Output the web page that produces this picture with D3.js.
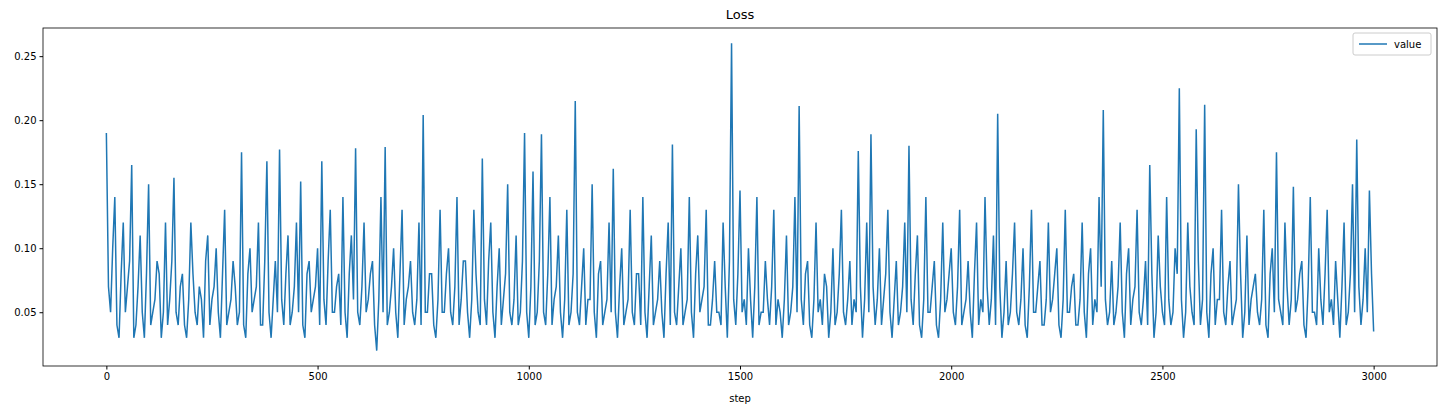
<!DOCTYPE html>
<html>
<head>
<meta charset="utf-8">
<script src="https://cdn.jsdelivr.net/npm/d3@7"></script>
<style>
  body { margin: 0; background: #fff; }
  text { font-family: "DejaVu Sans", sans-serif; }
</style>
</head>
<body>
<script>
// loss value at steps 0, 10, 20, ...
var lossValues = [
  0.19,0.05,0.14,0.03,0.12,0.07,0.165,0.04,0.11,0.03,0.15,0.05,0.09,0.03,0.12,0.06,0.155,0.04,0.08,0.03,
  0.12,0.05,0.07,0.03,0.11,0.06,0.10,0.03,0.13,0.05,0.09,0.04,0.175,0.03,0.10,0.06,0.12,0.04,0.168,0.03,
  0.09,0.177,0.04,0.11,0.05,0.12,0.152,0.03,0.09,0.06,0.10,0.168,0.04,0.13,0.05,0.08,0.14,0.03,0.11,0.178,
  0.04,0.12,0.06,0.09,0.02,0.14,0.179,0.05,0.10,0.03,0.13,0.06,0.09,0.04,0.12,0.204,0.05,0.08,0.03,0.13,
  0.05,0.10,0.04,0.14,0.06,0.09,0.03,0.13,0.05,0.17,0.04,0.12,0.03,0.10,0.06,0.15,0.04,0.11,0.05,0.19,
  0.03,0.16,0.05,0.189,0.04,0.14,0.06,0.11,0.03,0.13,0.05,0.215,0.04,0.10,0.06,0.15,0.03,0.09,0.05,0.12,
  0.162,0.03,0.10,0.05,0.13,0.04,0.08,0.14,0.03,0.11,0.05,0.09,0.03,0.12,0.181,0.04,0.10,0.05,0.14,0.03,
  0.11,0.06,0.13,0.04,0.09,0.05,0.12,0.03,0.26,0.04,0.145,0.06,0.10,0.03,0.14,0.05,0.09,0.04,0.13,0.06,
  0.03,0.11,0.05,0.14,0.211,0.04,0.09,0.03,0.12,0.06,0.08,0.03,0.10,0.05,0.13,0.04,0.09,0.06,0.176,0.03,
  0.12,0.189,0.04,0.10,0.06,0.13,0.03,0.09,0.05,0.12,0.18,0.04,0.11,0.03,0.14,0.05,0.09,0.03,0.12,0.06,
  0.10,0.04,0.13,0.05,0.09,0.03,0.12,0.06,0.14,0.04,0.11,0.205,0.03,0.09,0.05,0.12,0.04,0.10,0.03,0.13,
  0.05,0.09,0.04,0.12,0.06,0.10,0.03,0.13,0.05,0.08,0.04,0.12,0.03,0.10,0.06,0.14,0.208,0.04,0.09,0.05,
  0.12,0.03,0.10,0.06,0.13,0.04,0.09,0.165,0.03,0.11,0.05,0.14,0.04,0.10,0.225,0.03,0.12,0.05,0.193,0.04,
  0.212,0.03,0.10,0.06,0.13,0.04,0.09,0.05,0.15,0.03,0.11,0.06,0.08,0.04,0.13,0.03,0.10,0.175,0.05,0.12,
  0.04,0.148,0.06,0.09,0.03,0.14,0.05,0.10,0.04,0.13,0.06,0.09,0.03,0.12,0.05,0.15,0.185,0.04,0.10,0.145,
  0.035
];
// loss value at steps 5, 15, 25, ...
var lossMidValues = [
  0.07,0.10,0.04,0.08,0.05,0.09,0.03,0.07,0.05,0.08,0.04,0.06,0.08,0.05,0.04,0.09,0.05,0.07,0.04,0.06,
  0.08,0.04,0.06,0.09,0.04,0.07,0.05,0.08,0.04,0.06,0.07,0.05,0.04,0.08,0.05,0.07,0.04,0.09,0.05,0.06,
  0.05,0.06,0.08,0.04,0.07,0.05,0.04,0.08,0.05,0.07,0.04,0.06,0.09,0.05,0.07,0.04,0.05,0.08,0.06,0.05,
  0.07,0.05,0.08,0.04,0.06,0.05,0.04,0.07,0.05,0.08,0.04,0.07,0.05,0.06,0.04,0.05,0.08,0.04,0.06,0.05,
  0.08,0.05,0.07,0.04,0.09,0.05,0.06,0.08,0.04,0.06,0.09,0.05,0.07,0.04,0.08,0.05,0.06,0.04,0.09,0.05,
  0.07,0.04,0.09,0.05,0.08,0.04,0.07,0.05,0.06,0.04,0.08,0.05,0.07,0.04,0.06,0.05,0.08,0.04,0.06,0.05,
  0.05,0.07,0.04,0.06,0.05,0.08,0.04,0.05,0.07,0.04,0.06,0.05,0.08,0.04,0.05,0.07,0.04,0.06,0.05,0.08,
  0.05,0.07,0.04,0.06,0.05,0.04,0.07,0.09,0.06,0.08,0.05,0.04,0.06,0.07,0.04,0.05,0.06,0.07,0.04,0.05,
  0.06,0.04,0.07,0.05,0.06,0.08,0.04,0.06,0.05,0.04,0.07,0.05,0.04,0.08,0.05,0.06,0.04,0.05,0.07,0.06,
  0.05,0.07,0.06,0.04,0.08,0.05,0.06,0.04,0.07,0.05,0.06,0.08,0.04,0.06,0.05,0.07,0.04,0.06,0.05,0.08,
  0.05,0.07,0.04,0.06,0.05,0.08,0.04,0.05,0.07,0.06,0.04,0.07,0.05,0.04,0.08,0.05,0.06,0.04,0.07,0.05,
  0.07,0.04,0.06,0.05,0.08,0.04,0.06,0.05,0.07,0.04,0.06,0.05,0.08,0.04,0.05,0.07,0.06,0.05,0.04,0.07,
  0.05,0.08,0.04,0.07,0.05,0.06,0.04,0.08,0.05,0.07,0.04,0.06,0.05,0.08,0.06,0.05,0.07,0.04,0.09,0.06,
  0.05,0.08,0.04,0.06,0.05,0.07,0.04,0.06,0.08,0.05,0.04,0.07,0.05,0.06,0.04,0.08,0.05,0.06,0.04,0.07,
  0.06,0.05,0.08,0.04,0.07,0.05,0.04,0.06,0.08,0.05,0.04,0.06,0.07,0.04,0.08,0.05,0.07,0.06,0.05,0.08
];
var stepSize = 10;
var xTicks = [0, 500, 1000, 1500, 2000, 2500, 3000];
var yTicks = [0.05, 0.10, 0.15, 0.20, 0.25];

var width = 1445, height = 411;
var margin = {top: 28, right: 8, bottom: 45, left: 43};

// merge the two sample sets into one series ordered by step
var data = [];
lossValues.forEach(function(v, i) {
  data.push({step: i * stepSize, value: v});
  if (i < lossMidValues.length) data.push({step: i * stepSize + stepSize / 2, value: lossMidValues[i]});
});

var svg = d3.select("body").append("svg")
  .attr("width", width).attr("height", height);

// matplotlib style 5% margins
var xExt = d3.extent(data, function(d) { return d.step; });
var yExt = d3.extent(data, function(d) { return d.value; });
var xPad = (xExt[1] - xExt[0]) * 0.05, yPad = (yExt[1] - yExt[0]) * 0.05;

var x = d3.scaleLinear().domain([xExt[0] - xPad, xExt[1] + xPad])
  .range([margin.left, width - margin.right]);
var y = d3.scaleLinear().domain([yExt[0] - yPad, yExt[1] + yPad])
  .range([height - margin.bottom, margin.top]);

var xAxis = svg.append("g")
  .attr("transform", "translate(0," + (height - margin.bottom) + ")")
  .call(d3.axisBottom(x).tickValues(xTicks).tickFormat(d3.format("d")).tickSize(3.5).tickPadding(3));
var yAxis = svg.append("g")
  .attr("transform", "translate(" + margin.left + ",0)")
  .call(d3.axisLeft(y).tickValues(yTicks).tickFormat(d3.format(".2f")).tickSize(3.5).tickPadding(3));
[xAxis, yAxis].forEach(function(a) {
  a.select(".domain").remove();
  a.selectAll("text").style("font-family", "DejaVu Sans").style("font-size", "10px").attr("fill", "#000");
  a.selectAll("line").attr("stroke", "#000");
});

svg.append("path")
  .datum(data)
  .attr("fill", "none")
  .attr("stroke", "#1f77b4")
  .attr("stroke-width", 1.5)
  .attr("d", d3.line().x(function(d) { return x(d.step); }).y(function(d) { return y(d.value); }));

svg.append("rect")
  .attr("x", margin.left).attr("y", margin.top)
  .attr("width", width - margin.left - margin.right)
  .attr("height", height - margin.top - margin.bottom)
  .attr("fill", "none").attr("stroke", "#000").attr("stroke-width", 0.8);

svg.append("text").attr("x", (margin.left + width - margin.right) / 2).attr("y", 19)
  .attr("text-anchor", "middle").style("font-size", "13px").text("Loss");
svg.append("text").attr("x", (margin.left + width - margin.right) / 2).attr("y", 402)
  .attr("text-anchor", "middle").style("font-size", "10px").text("step");

// legend
var lg = svg.append("g").attr("transform", "translate(" + (width - margin.right - 84) + "," + (margin.top + 5) + ")");
lg.append("rect").attr("width", 78).attr("height", 22).attr("rx", 2)
  .attr("fill", "#fff").attr("stroke", "#ccc");
lg.append("line").attr("x1", 6).attr("x2", 34).attr("y1", 11).attr("y2", 11)
  .attr("stroke", "#1f77b4").attr("stroke-width", 1.5);
lg.append("text").attr("x", 41).attr("y", 15).style("font-size", "10px").text("value");
</script>
</body>
</html>
